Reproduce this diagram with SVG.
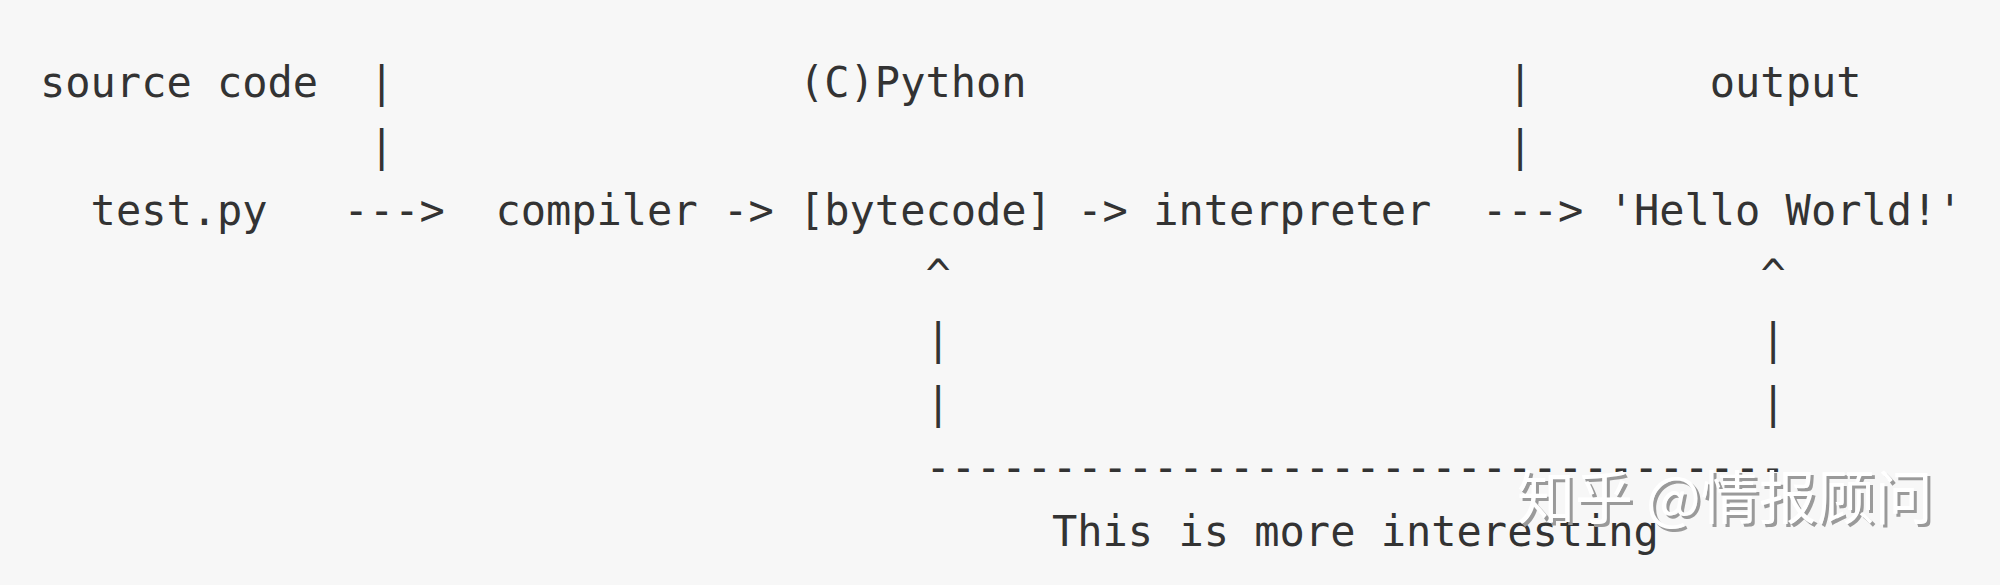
<svg xmlns="http://www.w3.org/2000/svg" width="2000" height="585" viewBox="0 0 2000 585">
<style>
  .t { font-family: "DejaVu Sans Mono", "Liberation Mono", monospace; font-size: 42px; fill: #333333; white-space: pre; }
  .wm { font-family: "Noto Sans CJK SC", "Noto Sans", sans-serif; font-size: 58px; }
</style>
<rect x="0" y="0" width="2000" height="585" fill="#f7f7f7"/>
<g id="node-source-code"><text class="t" x="40" y="97">source code</text></g>
<g id="node-cpython"><text class="t" x="799" y="97">(C)Python</text></g>
<g id="node-output"><text class="t" x="1709.8" y="97">output</text></g>
<g id="node-test-py"><text class="t" x="90.6" y="225.4">test.py</text></g>
<g id="node-compiler"><text class="t" x="495.4" y="225.4">compiler</text></g>
<g id="node-bytecode"><text class="t" x="799" y="225.4">[bytecode]</text></g>
<g id="node-interpreter"><text class="t" x="1153.2" y="225.4">interpreter</text></g>
<g id="node-hello"><text class="t" x="1608.6" y="225.4">'Hello World!'</text></g>
<g id="node-note"><text class="t" x="1052" y="546.4">This is more interesting</text></g>
<g id="connectors">
  <text class="t" x="368.9" y="97">|</text>
  <text class="t" x="1507.4" y="97">|</text>
  <text class="t" x="368.9" y="161.2">|</text>
  <text class="t" x="1507.4" y="161.2">|</text>
  <text class="t" x="343.6" y="225.4">---&gt;</text>
  <text class="t" x="723.1" y="225.4">-&gt;</text>
  <text class="t" x="1077.3" y="225.4">-&gt;</text>
  <text class="t" x="1482.1" y="225.4">---&gt;</text>
  <text class="t" x="925.5" y="289.6">^</text>
  <text class="t" x="1760.4" y="289.6">^</text>
  <text class="t" x="925.5" y="353.8">|</text>
  <text class="t" x="1760.4" y="353.8">|</text>
  <text class="t" x="925.5" y="418">|</text>
  <text class="t" x="1760.4" y="418">|</text>
  <text class="t" x="925.5" y="482.2">----------------------------------</text>
</g>
<g id="watermark">
  <text class="wm" x="1520" y="522" fill="#9a9a9a">知乎 @情报顾问</text>
  <text class="wm" x="1517" y="519" fill="#ffffff">知乎 @情报顾问</text>
</g>
</svg>
